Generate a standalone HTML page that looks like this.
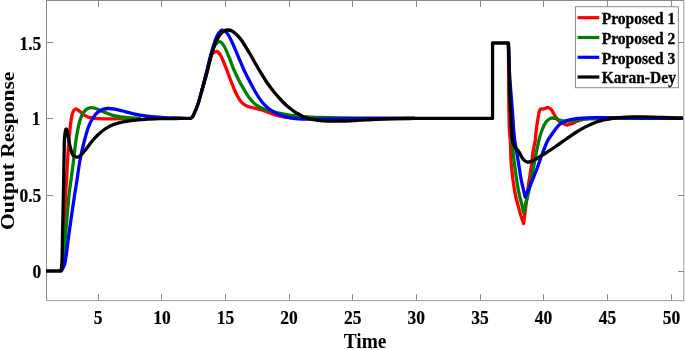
<!DOCTYPE html>
<html>
<head>
<meta charset="utf-8">
<title>Output Response</title>
<style>
html,body{margin:0;padding:0;background:#fff;}
body{width:685px;height:350px;overflow:hidden;}
svg{display:block;}
text{font-family:"Liberation Serif","DejaVu Serif",serif;font-weight:bold;fill:#000;}
.tick{font-size:18.5px;stroke:#000;stroke-width:0.2px;}
.leg{font-size:17.6px;stroke:#000;stroke-width:0.35px;}
.lab{font-size:21.5px;}
.c{fill:none;stroke-width:3.3;stroke-linejoin:round;stroke-linecap:butt;}
</style>
</head>
<body>
<svg width="685" height="350" viewBox="0 0 685 350">
<rect x="0" y="0" width="685" height="350" fill="#ffffff"/>
<!-- axes frame -->
<g stroke="#8a8a8a" stroke-width="1" fill="none" shape-rendering="crispEdges">
<path d="M46.5 0V301M46 0.5H684"/>
<path stroke="#9a9a9a" shape-rendering="auto" d="M683.8 0V301.1M46 300.65H684.3"/>
<!-- x ticks bottom -->
<path d="M98.5 300V294M161.5 300V294M225.5 300V294M289.5 300V294M352.5 300V294M416.5 300V294M480.5 300V294M543.5 300V294M607.5 300V294M671.5 300V294"/>
<!-- x ticks top -->
<path d="M98.5 1V7M161.5 1V7M225.5 1V7M289.5 1V7M352.5 1V7M416.5 1V7M480.5 1V7M543.5 1V7M607.5 1V7M671.5 1V7"/>
<!-- y ticks left -->
<path d="M47 42.5H53M47 118.5H53M47 195.5H53M47 271.5H53"/>
<!-- y ticks right -->
<path d="M683.5 42.5H677.5M683.5 118.5H677.5M683.5 195.5H677.5M683.5 271.5H677.5"/>
</g>
<clipPath id="cp"><rect x="46" y="1" width="637.5" height="299.5"/></clipPath>
<g clip-path="url(#cp)">
<path class="c" stroke="#ff0000" d="M61.00 271.00 C61.25 269.50 61.93 268.83 62.50 262.00 C63.07 255.17 63.88 241.17 64.40 230.00 C64.92 218.83 65.23 203.33 65.60 195.00 C65.97 186.67 66.27 185.83 66.60 180.00 C66.93 174.17 67.20 166.67 67.60 160.00 C68.00 153.33 68.50 146.00 69.00 140.00 C69.50 134.00 70.00 128.50 70.60 124.00 C71.20 119.50 71.77 115.50 72.60 113.00 C73.43 110.50 74.37 109.23 75.60 109.00 C76.83 108.77 78.43 110.50 80.00 111.60 C81.57 112.70 83.17 114.57 85.00 115.60 C86.83 116.63 88.67 117.30 91.00 117.80 C93.33 118.30 95.00 118.43 99.00 118.60 C103.00 118.77 110.67 118.80 115.00 118.80 C119.33 118.80 120.83 118.67 125.00 118.60 C129.17 118.53 137.50 118.43 140.00 118.40 M202.00 90.00 C202.83 87.00 205.50 77.67 207.00 72.00 C208.50 66.33 209.92 59.17 211.00 56.00 C212.08 52.83 212.50 53.77 213.50 53.00 C214.50 52.23 215.75 50.90 217.00 51.40 C218.25 51.90 219.83 54.07 221.00 56.00 C222.17 57.93 223.00 60.58 224.00 63.00 C225.00 65.42 226.00 67.92 227.00 70.50 C228.00 73.08 229.08 76.08 230.00 78.50 C230.92 80.92 231.67 82.92 232.50 85.00 C233.33 87.08 234.17 89.17 235.00 91.00 C235.83 92.83 236.67 94.47 237.50 96.00 C238.33 97.53 239.17 99.00 240.00 100.20 C240.83 101.40 241.17 102.17 242.50 103.20 C243.83 104.23 246.08 105.60 248.00 106.40 C249.92 107.20 251.67 107.40 254.00 108.00 C256.33 108.60 259.33 109.17 262.00 110.00 C264.67 110.83 267.33 112.07 270.00 113.00 C272.67 113.93 275.33 114.90 278.00 115.60 C280.67 116.30 283.17 116.77 286.00 117.20 C288.83 117.63 291.00 117.97 295.00 118.20 C299.00 118.43 302.50 118.57 310.00 118.60 C317.50 118.63 322.50 118.43 340.00 118.40 C357.50 118.37 402.50 118.40 415.00 118.40 M508.40 43.00 C508.47 52.50 508.63 85.50 508.80 100.00 C508.97 114.50 509.15 123.33 509.40 130.00 C509.65 136.67 509.97 134.05 510.30 140.00 C510.63 145.95 510.67 157.13 511.40 165.70 C512.13 174.27 513.33 183.85 514.70 191.40 C516.07 198.95 518.35 206.32 519.60 211.00 C520.85 215.68 521.53 217.40 522.20 219.50 C522.87 221.60 523.37 222.92 523.60 223.60 C523.77 222.33 524.20 219.27 524.60 216.00 C525.00 212.73 525.52 208.10 526.00 204.00 C526.48 199.90 526.60 197.78 527.50 191.40 C528.40 185.02 530.48 172.27 531.40 165.70 C532.32 159.13 532.35 156.28 533.00 152.00 C533.65 147.72 534.80 143.33 535.30 140.00 C535.80 136.67 535.48 136.00 536.00 132.00 C536.52 128.00 537.73 119.73 538.40 116.00 C539.07 112.27 539.23 110.77 540.00 109.60 C540.77 108.43 542.08 109.20 543.00 109.00 C543.92 108.80 544.67 108.65 545.50 108.40 C546.33 108.15 546.98 107.23 548.00 107.50 C549.02 107.77 550.43 108.58 551.60 110.00 C552.77 111.42 553.93 114.33 555.00 116.00 C556.07 117.67 556.83 118.83 558.00 120.00 C559.17 121.17 560.50 122.17 562.00 123.00 C563.50 123.83 565.33 124.90 567.00 125.00 C568.67 125.10 570.17 124.27 572.00 123.60 C573.83 122.93 575.67 121.83 578.00 121.00 C580.33 120.17 583.17 119.07 586.00 118.60 C588.83 118.13 591.00 118.23 595.00 118.20 C599.00 118.17 595.33 118.37 610.00 118.40 C624.67 118.43 670.83 118.40 683.00 118.40"/>
<path class="c" stroke="#008000" d="M61.00 271.00 C61.33 269.50 62.17 268.83 63.00 262.00 C63.83 255.17 65.00 241.17 66.00 230.00 C67.00 218.83 68.17 203.33 69.00 195.00 C69.83 186.67 70.23 185.83 71.00 180.00 C71.77 174.17 72.77 166.67 73.60 160.00 C74.43 153.33 75.10 146.00 76.00 140.00 C76.90 134.00 78.00 128.17 79.00 124.00 C80.00 119.83 80.83 117.40 82.00 115.00 C83.17 112.60 84.50 110.83 86.00 109.60 C87.50 108.37 89.17 107.70 91.00 107.60 C92.83 107.50 94.67 108.20 97.00 109.00 C99.33 109.80 102.33 111.33 105.00 112.40 C107.67 113.47 110.33 114.63 113.00 115.40 C115.67 116.17 118.00 116.57 121.00 117.00 C124.00 117.43 127.67 117.77 131.00 118.00 C134.33 118.23 139.33 118.33 141.00 118.40 M202.00 90.00 C202.83 87.00 205.50 77.67 207.00 72.00 C208.50 66.33 209.83 60.17 211.00 56.00 C212.17 51.83 213.00 49.17 214.00 47.00 C215.00 44.83 216.07 43.90 217.00 43.00 C217.93 42.10 218.43 41.10 219.60 41.60 C220.77 42.10 222.43 43.43 224.00 46.00 C225.57 48.57 227.33 53.00 229.00 57.00 C230.67 61.00 232.25 65.92 234.00 70.00 C235.75 74.08 237.67 77.97 239.50 81.50 C241.33 85.03 243.25 88.33 245.00 91.20 C246.75 94.07 248.17 96.43 250.00 98.70 C251.83 100.97 253.67 103.08 256.00 104.80 C258.33 106.52 261.00 107.80 264.00 109.00 C267.00 110.20 270.67 111.17 274.00 112.00 C277.33 112.83 280.67 113.40 284.00 114.00 C287.33 114.60 290.17 115.10 294.00 115.60 C297.83 116.10 302.67 116.70 307.00 117.00 C311.33 117.30 314.50 117.27 320.00 117.40 C325.50 117.53 331.67 117.67 340.00 117.80 C348.33 117.93 360.00 118.10 370.00 118.20 C380.00 118.30 392.50 118.37 400.00 118.40 C407.50 118.43 412.50 118.40 415.00 118.40 M508.40 43.00 C508.67 52.50 509.48 85.50 510.00 100.00 C510.52 114.50 511.17 123.33 511.50 130.00 C511.83 136.67 511.47 134.05 512.00 140.00 C512.53 145.95 513.60 157.13 514.70 165.70 C515.80 174.27 517.38 184.85 518.60 191.40 C519.82 197.95 521.13 201.43 522.00 205.00 C522.87 208.57 523.50 211.50 523.80 212.80 C524.08 211.50 524.67 208.57 525.50 205.00 C526.33 201.43 527.55 197.23 528.80 191.40 C530.05 185.57 531.80 176.23 533.00 170.00 C534.20 163.77 535.00 159.00 536.00 154.00 C537.00 149.00 538.00 144.00 539.00 140.00 C540.00 136.00 540.83 133.00 542.00 130.00 C543.17 127.00 544.67 123.90 546.00 122.00 C547.33 120.10 548.92 119.27 550.00 118.60 C551.08 117.93 551.67 118.02 552.50 118.00 C553.33 117.98 554.08 118.25 555.00 118.50 C555.92 118.75 556.83 119.15 558.00 119.50 C559.17 119.85 560.50 120.32 562.00 120.60 C563.50 120.88 565.17 121.17 567.00 121.20 C568.83 121.23 570.67 121.05 573.00 120.80 C575.33 120.55 578.17 120.02 581.00 119.70 C583.83 119.38 586.83 119.10 590.00 118.90 C593.17 118.70 596.33 118.58 600.00 118.50 C603.67 118.42 598.17 118.42 612.00 118.40 C625.83 118.38 671.17 118.40 683.00 118.40"/>
<path class="c" stroke="#0000ff" d="M61.50 271.00 C61.83 270.33 62.83 268.83 63.50 267.00 C64.17 265.17 64.50 266.17 65.50 260.00 C66.50 253.83 67.98 240.83 69.50 230.00 C71.02 219.17 73.35 203.33 74.60 195.00 C75.85 186.67 76.10 185.83 77.00 180.00 C77.90 174.17 78.90 166.00 80.00 160.00 C81.10 154.00 82.25 149.33 83.60 144.00 C84.95 138.67 86.60 132.25 88.10 128.00 C89.60 123.75 91.05 121.07 92.60 118.50 C94.15 115.93 95.67 114.12 97.40 112.60 C99.13 111.08 101.15 110.08 103.00 109.40 C104.85 108.72 106.50 108.53 108.50 108.50 C110.50 108.47 112.25 108.68 115.00 109.20 C117.75 109.72 121.67 110.77 125.00 111.60 C128.33 112.43 131.67 113.47 135.00 114.20 C138.33 114.93 141.67 115.53 145.00 116.00 C148.33 116.47 151.67 116.73 155.00 117.00 C158.33 117.27 161.67 117.43 165.00 117.60 C168.33 117.77 171.67 117.88 175.00 118.00 C178.33 118.12 183.33 118.25 185.00 118.30 M190.00 118.40 C190.33 118.25 191.33 118.23 192.00 117.50 C192.67 116.77 193.00 116.25 194.00 114.00 C195.00 111.75 196.67 108.00 198.00 104.00 C199.33 100.00 200.58 95.33 202.00 90.00 C203.42 84.67 205.08 77.67 206.50 72.00 C207.92 66.33 209.25 60.67 210.50 56.00 C211.75 51.33 212.92 47.33 214.00 44.00 C215.08 40.67 215.73 38.27 217.00 36.00 C218.27 33.73 219.93 30.90 221.60 30.40 C223.27 29.90 225.27 31.07 227.00 33.00 C228.73 34.93 230.17 38.17 232.00 42.00 C233.83 45.83 236.00 51.33 238.00 56.00 C240.00 60.67 242.00 65.67 244.00 70.00 C246.00 74.33 248.00 78.17 250.00 82.00 C252.00 85.83 254.00 89.67 256.00 93.00 C258.00 96.33 260.00 99.50 262.00 102.00 C264.00 104.50 266.00 106.33 268.00 108.00 C270.00 109.67 271.67 110.73 274.00 112.00 C276.33 113.27 279.33 114.63 282.00 115.60 C284.67 116.57 287.33 117.27 290.00 117.80 C292.67 118.33 295.17 118.57 298.00 118.80 C300.83 119.03 303.33 119.17 307.00 119.20 C310.67 119.23 314.50 119.07 320.00 119.00 C325.50 118.93 333.33 118.87 340.00 118.80 C346.67 118.73 350.00 118.67 360.00 118.60 C370.00 118.53 390.83 118.43 400.00 118.40 C409.17 118.37 412.50 118.40 415.00 118.40 M508.40 43.00 C508.57 47.50 509.02 62.17 509.40 70.00 C509.78 77.83 510.22 83.33 510.70 90.00 C511.18 96.67 511.80 103.33 512.30 110.00 C512.80 116.67 513.30 125.00 513.70 130.00 C514.10 135.00 514.10 135.77 514.70 140.00 C515.30 144.23 516.25 148.97 517.30 155.40 C518.35 161.83 519.97 172.83 521.00 178.60 C522.03 184.37 522.82 186.93 523.50 190.00 C524.18 193.07 524.83 195.83 525.10 197.00 C525.42 196.25 526.18 194.33 527.00 192.50 C527.82 190.67 528.42 189.75 530.00 186.00 C531.58 182.25 534.53 175.17 536.50 170.00 C538.47 164.83 540.05 159.67 541.80 155.00 C543.55 150.33 545.47 145.25 547.00 142.00 C548.53 138.75 549.50 137.75 551.00 135.50 C552.50 133.25 554.43 130.47 556.00 128.50 C557.57 126.53 558.80 124.95 560.40 123.70 C562.00 122.45 563.88 121.70 565.60 121.00 C567.32 120.30 568.97 119.90 570.70 119.50 C572.43 119.10 574.12 118.83 576.00 118.60 C577.88 118.37 579.00 118.25 582.00 118.10 C585.00 117.95 589.83 117.77 594.00 117.70 C598.17 117.63 601.83 117.63 607.00 117.70 C612.17 117.77 619.50 117.98 625.00 118.10 C630.50 118.22 630.33 118.35 640.00 118.40 C649.67 118.45 675.83 118.40 683.00 118.40"/>
<path class="c" stroke="#000000" d="M46.00 271.00 L61.00 271.00 C61.17 269.50 61.73 268.83 62.00 262.00 C62.27 255.17 62.37 241.17 62.60 230.00 C62.83 218.83 63.17 206.67 63.40 195.00 C63.63 183.33 63.83 169.17 64.00 160.00 C64.17 150.83 64.17 144.83 64.40 140.00 C64.63 135.17 65.07 132.83 65.40 131.00 C65.73 129.17 66.10 129.00 66.40 129.00 C66.70 129.00 66.93 129.83 67.20 131.00 C67.47 132.17 67.53 133.50 68.00 136.00 C68.47 138.50 69.33 143.12 70.00 146.00 C70.67 148.88 71.25 151.57 72.00 153.30 C72.75 155.03 73.67 155.75 74.50 156.40 C75.33 157.05 76.08 157.27 77.00 157.20 C77.92 157.13 78.67 157.12 80.00 156.00 C81.33 154.88 83.17 152.75 85.00 150.50 C86.83 148.25 89.00 144.95 91.00 142.50 C93.00 140.05 94.67 138.05 97.00 135.80 C99.33 133.55 102.33 130.83 105.00 129.00 C107.67 127.17 110.33 125.92 113.00 124.80 C115.67 123.68 118.00 123.00 121.00 122.30 C124.00 121.60 127.00 121.10 131.00 120.60 C135.00 120.10 140.17 119.62 145.00 119.30 C149.83 118.98 155.00 118.83 160.00 118.70 C165.00 118.57 170.00 118.55 175.00 118.50 C180.00 118.45 187.50 118.42 190.00 118.40 C190.33 118.25 191.33 118.23 192.00 117.50 C192.67 116.77 193.00 116.25 194.00 114.00 C195.00 111.75 196.67 108.00 198.00 104.00 C199.33 100.00 200.50 95.33 202.00 90.00 C203.50 84.67 205.50 77.67 207.00 72.00 C208.50 66.33 209.67 60.67 211.00 56.00 C212.33 51.33 213.67 47.33 215.00 44.00 C216.33 40.67 217.67 38.07 219.00 36.00 C220.33 33.93 221.57 32.60 223.00 31.60 C224.43 30.60 226.10 30.10 227.60 30.00 C229.10 29.90 230.43 30.17 232.00 31.00 C233.57 31.83 235.33 33.33 237.00 35.00 C238.67 36.67 239.83 37.83 242.00 41.00 C244.17 44.17 248.00 50.67 250.00 54.00 C252.00 57.33 252.67 58.67 254.00 61.00 C255.33 63.33 256.67 65.72 258.00 68.00 C259.33 70.28 260.67 72.53 262.00 74.70 C263.33 76.87 264.67 78.98 266.00 81.00 C267.33 83.02 268.67 84.97 270.00 86.80 C271.33 88.63 272.67 90.37 274.00 92.00 C275.33 93.63 276.67 95.10 278.00 96.60 C279.33 98.10 280.67 99.60 282.00 101.00 C283.33 102.40 284.67 103.78 286.00 105.00 C287.33 106.22 288.67 107.25 290.00 108.30 C291.33 109.35 292.67 110.38 294.00 111.30 C295.33 112.22 296.67 113.03 298.00 113.80 C299.33 114.57 300.67 115.27 302.00 115.90 C303.33 116.53 304.67 117.12 306.00 117.60 C307.33 118.08 308.50 118.43 310.00 118.80 C311.50 119.17 313.33 119.52 315.00 119.80 C316.67 120.08 318.00 120.30 320.00 120.50 C322.00 120.70 324.67 120.88 327.00 121.00 C329.33 121.12 330.83 121.20 334.00 121.20 C337.17 121.20 341.67 121.17 346.00 121.00 C350.33 120.83 355.00 120.48 360.00 120.20 C365.00 119.92 370.67 119.53 376.00 119.30 C381.33 119.07 386.33 118.93 392.00 118.80 C397.67 118.67 403.67 118.57 410.00 118.50 C416.33 118.43 416.24 118.42 430.00 118.40 C443.76 118.38 482.12 118.40 492.55 118.40 L492.55 43.00 L508.40 43.00 C508.67 52.50 509.57 87.17 510.00 100.00 C510.43 112.83 510.60 113.33 511.00 120.00 C511.40 126.67 511.73 135.50 512.40 140.00 C513.07 144.50 513.90 145.00 515.00 147.00 C516.10 149.00 517.67 150.00 519.00 152.00 C520.33 154.00 521.67 157.33 523.00 159.00 C524.33 160.67 525.67 161.58 527.00 162.00 C528.33 162.42 529.67 161.90 531.00 161.50 C532.33 161.10 533.50 160.42 535.00 159.60 C536.50 158.78 538.33 157.62 540.00 156.60 C541.67 155.58 543.30 154.57 545.00 153.50 C546.70 152.43 548.53 151.28 550.20 150.20 C551.87 149.12 553.30 148.17 555.00 147.00 C556.70 145.83 558.65 144.45 560.40 143.20 C562.15 141.95 563.78 140.72 565.50 139.50 C567.22 138.28 568.98 137.07 570.70 135.90 C572.42 134.73 574.10 133.58 575.80 132.50 C577.50 131.42 579.20 130.38 580.90 129.40 C582.60 128.42 584.30 127.47 586.00 126.60 C587.70 125.73 589.43 124.93 591.10 124.20 C592.77 123.47 594.30 122.80 596.00 122.20 C597.70 121.60 599.55 121.07 601.30 120.60 C603.05 120.13 604.78 119.75 606.50 119.40 C608.22 119.05 609.90 118.77 611.60 118.50 C613.30 118.23 615.00 118.00 616.70 117.80 C618.40 117.60 619.25 117.45 621.80 117.30 C624.35 117.15 628.60 116.97 632.00 116.90 C635.40 116.83 638.78 116.87 642.20 116.90 C645.62 116.93 649.08 117.00 652.50 117.10 C655.92 117.20 658.95 117.35 662.70 117.50 C666.45 117.65 671.62 117.88 675.00 118.00 C678.38 118.12 681.67 118.17 683.00 118.20"/>
</g>
<!-- legend -->
<rect x="575.4" y="6.7" width="102.9" height="81" fill="#fff" stroke="#8a8a8a" stroke-width="1"/>
<g stroke-width="3.2" fill="none">
<path stroke="#ff0000" d="M577.6 17.7H599.3"/>
<path stroke="#008000" d="M577.6 37.5H599.3"/>
<path stroke="#0000ff" d="M577.6 57.3H599.3"/>
<path stroke="#000000" d="M577.6 77H599.3"/>
</g>
<g class="leg">
<text transform="translate(601.7,24.1) scale(0.883,1)">Proposed 1</text>
<text transform="translate(601.7,43.9) scale(0.883,1)">Proposed 2</text>
<text transform="translate(601.7,63.7) scale(0.883,1)">Proposed 3</text>
<text transform="translate(601.7,83.4) scale(0.883,1)">Karan-Dey</text>
</g>
<!-- x tick labels -->
<g class="tick" text-anchor="middle">
<text transform="translate(98.1,324.2) scale(0.945,1)">5</text>
<text transform="translate(161.9,324.2) scale(0.945,1)">10</text>
<text transform="translate(225.5,324.2) scale(0.945,1)">15</text>
<text transform="translate(289.1,324.2) scale(0.945,1)">20</text>
<text transform="translate(352.7,324.2) scale(0.945,1)">25</text>
<text transform="translate(416.3,324.2) scale(0.945,1)">30</text>
<text transform="translate(479.9,324.2) scale(0.945,1)">35</text>
<text transform="translate(543.5,324.2) scale(0.945,1)">40</text>
<text transform="translate(607.6,324.2) scale(0.945,1)">45</text>
<text transform="translate(671.4,324.2) scale(0.945,1)">50</text>
</g>
<!-- y tick labels -->
<g class="tick" text-anchor="end">
<text transform="translate(41.3,50.1) scale(0.945,1)">1.5</text>
<text transform="translate(40.4,125.3) scale(0.945,1)">1</text>
<text transform="translate(41.3,202.3) scale(0.945,1)">0.5</text>
<text transform="translate(41.3,277.9) scale(0.945,1)">0</text>
</g>
<text class="lab" transform="translate(365.1,348.1) scale(0.9,1)" text-anchor="middle">Time</text>
<text class="lab" transform="translate(13.9,150.8) rotate(-90) scale(1,0.9)" text-anchor="middle">Output Response</text>
</svg>
</body>
</html>
